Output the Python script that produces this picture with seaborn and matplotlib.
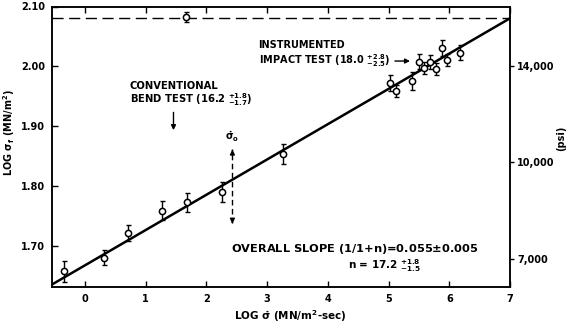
import matplotlib
matplotlib.use("Agg")
import matplotlib.pyplot as plt
import numpy as np
import pandas as pd
import seaborn as sns

# data
log_rate = [-0.35, 0.31, 0.71, 1.27, 1.69, 2.26, 3.26, 1.66,
            5.02, 5.12, 5.38, 5.51, 5.58, 5.69, 5.78, 5.88, 5.97, 6.18]
log_stress = [1.658, 1.681, 1.722, 1.759, 1.773, 1.790, 1.854, 2.082,
              1.972, 1.959, 1.975, 2.008, 1.997, 2.007, 1.996, 2.031, 2.011, 2.023]
stress_err = [0.017, 0.012, 0.013, 0.016, 0.016, 0.017, 0.017, 0.008,
              0.013, 0.010, 0.015, 0.012, 0.010, 0.012, 0.010, 0.013, 0.010, 0.012]

fit_intercept = 1.668
fit_slope = 0.0589
plateau = 2.08
transition_rate = 2.43

x_ticks = [0, 1, 2, 3, 4, 5, 6, 7]
y_ticks = [1.70, 1.80, 1.90, 2.00, 2.10]
psi_ticks = [1.679, 1.840, 2.000]
psi_labels = ["7,000", "10,000", "14,000"]

XLIM = (-0.54, 7.0)
YLIM = (1.632, 2.10)

sns.set_theme(style="ticks")
plt.rcParams["font.family"] = ["DejaVu Sans"]
plt.rcParams["font.weight"] = "bold"
plt.rcParams["axes.labelweight"] = "bold"
plt.rcParams["mathtext.default"] = "bf"
for key in ("text.color", "axes.labelcolor", "xtick.color", "ytick.color",
            "axes.edgecolor"):
    plt.rcParams[key] = "black"

df = pd.DataFrame({"rate": log_rate, "stress": log_stress, "err": stress_err})
fit_x = np.array(XLIM)
fit = pd.DataFrame({"rate": fit_x, "stress": fit_intercept + fit_slope * fit_x})

fig = plt.figure(figsize=(5.69, 3.23), dpi=100)
ax = fig.add_axes([52 / 569, 1 - 287 / 323, 458 / 569, 280.5 / 323])

sns.lineplot(data=fit, x="rate", y="stress", ax=ax, color="black", lw=1.8)
ax.plot(XLIM, [plateau, plateau], color="black", lw=1.0, dashes=(8, 4))

ax.errorbar(df["rate"], df["stress"], yerr=df["err"], fmt="none",
            ecolor="black", elinewidth=1.0, capsize=1.8, capthick=1.0)
sns.scatterplot(data=df, x="rate", y="stress", ax=ax, marker="o", s=20,
                facecolor="white", edgecolor="black", linewidth=1.1, zorder=5)

# transition marker
y_mid = fit_intercept + fit_slope * transition_rate
ax.plot([transition_rate, transition_rate], [1.738, 1.862], color="black",
        lw=1.0, dashes=(4, 2.5))
for yt in (1.866, 1.733):
    ax.annotate("", xy=(transition_rate, yt),
                xytext=(transition_rate, yt + (0.012 if yt < y_mid else -0.012)),
                arrowprops=dict(arrowstyle="-|>", color="black", lw=1.0,
                                mutation_scale=7))
ax.text(transition_rate, 1.870, r"$\dot{\sigma}_o$", fontsize=7,
        ha="center", va="bottom")

ax.text(0.74, 1.967, "CONVENTIONAL", fontsize=7.2, va="center", ha="left")
ax.text(0.74, 1.945, r"BEND TEST (16.2 $^{+1.8}_{-1.7}$)", fontsize=7.2,
        va="center", ha="left")
ax.annotate("", xy=(1.46, 1.889), xytext=(1.46, 1.928),
            arrowprops=dict(arrowstyle="-|>", color="black", lw=1.0,
                            mutation_scale=7))

ax.text(2.86, 2.035, "INSTRUMENTED", fontsize=7, va="center", ha="left")
ax.text(2.86, 2.009, r"IMPACT TEST (18.0 $^{+2.8}_{-2.5}$)", fontsize=7,
        va="center", ha="left")
ax.annotate("", xy=(5.40, 2.009), xytext=(5.06, 2.009),
            arrowprops=dict(arrowstyle="-|>", color="black", lw=1.0,
                            mutation_scale=7))

ax.text(2.40, 1.696, r"OVERALL SLOPE (1/1+n)=0.055$\pm$0.005", fontsize=8.2,
        va="center", ha="left")
ax.text(4.33, 1.668, r"n = 17.2 $^{+1.8}_{-1.5}$", fontsize=7.5,
        va="center", ha="left")

ax.set_xlim(*XLIM)
ax.set_ylim(*YLIM)
ax.set_xticks(x_ticks)
ax.set_yticks(y_ticks)
ax.set_yticklabels([f"{v:.2f}" for v in y_ticks])
ax.tick_params(axis="both", direction="in", length=4, width=1, labelsize=7,
               top=True, pad=5)
ax.set_xlabel(r"LOG $\dot{\sigma}$ (MN/m$^2$-sec)", fontsize=7.5)
ax.xaxis.set_label_coords(0.52, -0.075)
ax.set_ylabel(r"LOG $\sigma_f$ (MN/m$^2$)", fontsize=7)
ax.yaxis.set_label_coords(-0.077, 0.55)
for sp in ax.spines.values():
    sp.set_linewidth(1.1)
    sp.set_visible(True)

ax2 = ax.twinx()
ax2.set_ylim(*YLIM)
ax2.set_yticks(psi_ticks)
ax2.set_yticklabels(psi_labels)
ax2.tick_params(axis="y", direction="out", length=3, width=1, labelsize=7, pad=2)
ax2.set_ylabel("(psi)", fontsize=7)
ax2.yaxis.set_label_coords(1.1, 0.53)
for sp in ax2.spines.values():
    sp.set_linewidth(1.1)

fig.savefig("out.png", dpi=100)
